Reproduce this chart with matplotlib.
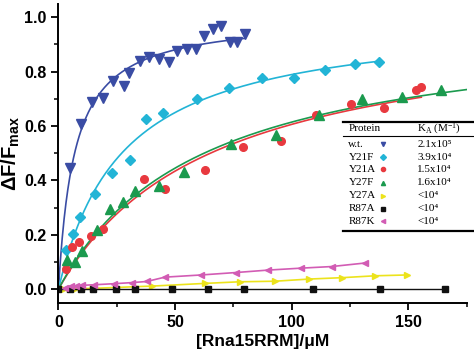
import numpy as np
import matplotlib
matplotlib.use("Agg")
import matplotlib.pyplot as plt
from matplotlib.ticker import MultipleLocator

# ---- data ----
wt_x = [4.9, 9.6, 14.4, 18.9, 23.5, 28.1, 30.4, 34.9, 38.9, 42.9, 47.4, 50.9, 54.9, 58.8,
        62.4, 66.4, 69.6, 73.5, 76.6, 79.9]
wt_y = [0.445, 0.607, 0.69, 0.704, 0.766, 0.747, 0.795, 0.84, 0.853, 0.848, 0.835, 0.877,
        0.882, 0.882, 0.93, 0.958, 0.968, 0.91, 0.91, 0.94]

y21f_x = [3.3, 6.3, 9.2, 15.5, 23.1, 30.6, 37.5, 44.9, 59.5, 73.2, 87.4, 100.9, 114.4, 127.2, 137.5]
y21f_y = [0.143, 0.201, 0.266, 0.349, 0.426, 0.475, 0.626, 0.649, 0.698, 0.739, 0.775, 0.775,
          0.806, 0.83, 0.834]

y21a_x = [3.1, 5.9, 8.6, 13.9, 18.9, 36.8, 45.5, 62.8, 79.2, 95.2, 110.4, 125.2, 139.5, 153.2, 155.4]
y21a_y = [0.074, 0.155, 0.173, 0.194, 0.222, 0.405, 0.367, 0.44, 0.521, 0.546, 0.64, 0.681,
          0.665, 0.732, 0.742]

y27f_x = [3.6, 7.2, 10.0, 16.5, 22.1, 27.8, 32.7, 43.2, 53.8, 73.8, 93.1, 111.8, 130.0, 147.1, 163.8]
y27f_y = [0.107, 0.099, 0.142, 0.217, 0.294, 0.319, 0.362, 0.38, 0.431, 0.534, 0.567, 0.64,
          0.698, 0.706, 0.732]

y27a_x = [2.5, 5.0, 7.0, 10.0, 15.0, 25.0, 33.0, 40.0, 62.8, 77.8, 92.8, 107.5, 121.4, 135.7, 149.2]
y27a_y = [0.0, 0.001, 0.001, 0.002, 0.003, 0.006, 0.009, 0.011, 0.021, 0.027, 0.029, 0.037,
          0.042, 0.049, 0.052]

r87a_x = [0.0, 4.9, 9.6, 14.7, 24.6, 32.8, 48.6, 64.2, 79.6, 109.2, 137.8, 165.6]
r87a_y = [0.0, 0.0, 0.0, 0.0, 0.0, 0.0, 0.0, 0.0, 0.0, 0.0, 0.0, 0.0]

r87k_x = [3.0, 5.4, 7.4, 10.2, 15.3, 24.0, 31.6, 37.8, 45.6, 61.1, 76.1, 89.9, 103.8, 117.1, 131.4]
r87k_y = [0.005, 0.012, 0.012, 0.014, 0.016, 0.02, 0.024, 0.028, 0.044, 0.052, 0.061, 0.07,
          0.077, 0.083, 0.096]

proteins = ["w.t.", "Y21F", "Y21A", "Y27F", "Y27A", "R87A", "R87K"]
ka_labels = ["2.1x10⁵", "3.9x10⁴", "1.5x10⁴", "1.6x10⁴", "<10⁴", "<10⁴", "<10⁴"]

fit_end = [80, 137.5, 155.5, 175]  # x where each hyperbolic fit line stops

c_blue = "#3a4ca4"
c_cyan = "#22b4d6"
c_red = "#e8393f"
c_green = "#1b9a4e"
c_yellow = "#ece31c"
c_black = "#111111"
c_pink = "#d25cb4"


def fit_hyperbola(x, y):
    # y = B*x/(K+x), least squares, B solved for each K
    x = np.asarray(x)
    y = np.asarray(y)
    best = None
    for K in np.linspace(0.5, 200, 4000):
        f = x / (K + x)
        B = np.sum(y * f) / np.sum(f * f)
        err = np.sum((y - B * f) ** 2)
        if best is None or err < best[0]:
            best = (err, B, K)
    return best[1], best[2]


plt.rcParams['font.family'] = ['Liberation Sans', 'DejaVu Sans']
plt.rcParams['font.weight'] = 'bold'

fig = plt.figure(figsize=(4.74, 3.53), dpi=100)
ax = fig.add_axes([0.1234, 0.1425, 0.8614, 0.847])

hyper = [(wt_x, wt_y, c_blue, 'v', 6.5),
         (y21f_x, y21f_y, c_cyan, 'D', 5.0),
         (y21a_x, y21a_y, c_red, 'o', 5.5),
         (y27f_x, y27f_y, c_green, '^', 6.5)]

# fit lines first, markers on top
for (xs, ys, col, mk, ms), xend in zip(hyper, fit_end):
    B, K = fit_hyperbola(xs, ys)
    xx = np.linspace(0, xend, 300)
    ax.plot(xx, B * xx / (K + xx), color=col, lw=1.2, zorder=2)

for xs, ys, col, mk, ms in hyper:
    ax.plot(xs, ys, ls='none', marker=mk, ms=ms, color=col, mec=col, zorder=3)

ax.plot(y27a_x, y27a_y, '-', marker='>', ms=5, color=c_yellow, lw=1.2, zorder=2)
ax.plot(r87a_x, r87a_y, '-', marker='s', ms=3.8, color=c_black, lw=1.0, zorder=2)
ax.plot(r87k_x, r87k_y, '-', marker='<', ms=5, color=c_pink, lw=1.2, zorder=2)

ax.set_xlim(0, 175)
ax.set_ylim(-0.05, 1.05)
ax.spines['top'].set_visible(False)
ax.spines['right'].set_visible(False)
for s in ['left', 'bottom']:
    ax.spines[s].set_linewidth(1.4)

ax.xaxis.set_major_locator(MultipleLocator(50))
ax.xaxis.set_minor_locator(MultipleLocator(25))
ax.yaxis.set_major_locator(MultipleLocator(0.2))
ax.yaxis.set_minor_locator(MultipleLocator(0.1))
ax.yaxis.set_major_formatter(plt.FuncFormatter(lambda v, p: "%.1f" % v))
ax.tick_params(which='major', direction='out', length=5, width=1.3, labelsize=11.5)
ax.tick_params(which='minor', direction='out', length=3, width=1.1)

ax.set_xlabel("[Rna15RRM]/μM", fontsize=12.5, fontweight='bold', labelpad=3)
ax.set_ylabel(r"ΔF/F$_\mathregular{max}$", fontsize=14.5, fontweight='bold', labelpad=2)

# ---- legend table ----
tr = ax.transAxes
x0, x1 = 0.696, 1.016
ax.plot([x0, x1], [0.605, 0.605], color='black', lw=1.6, transform=tr, clip_on=False)
ax.plot([x0, x1], [0.5585, 0.5585], color='black', lw=0.8, transform=tr, clip_on=False)
ax.plot([x0, x1], [0.24, 0.24], color='black', lw=1.6, transform=tr, clip_on=False)

serif = dict(family=['Liberation Serif', 'DejaVu Serif'], fontweight='normal', fontsize=8,
             va='center', transform=tr)
ax.text(0.71, 0.581, "Protein", **serif)
ax.text(0.879, 0.581, r"K$\mathregular{_A}$ (M$\mathregular{^{-1}}$)", **serif)

row_y = [0.530, 0.487, 0.446, 0.402, 0.358, 0.315, 0.272]
row_marks = [('v', c_blue), ('D', c_cyan), ('o', c_red), ('^', c_green),
             ('>', c_yellow), ('s', c_black), ('<', c_pink)]
for name, ka, yy, (mk, col) in zip(proteins, ka_labels, row_y, row_marks):
    ax.text(0.71, yy, name, **serif)
    ax.text(0.879, yy, ka, **serif)
    ax.plot([0.795], [yy], marker=mk, ms=3, color=col, ls='none', transform=tr, clip_on=False)

fig.savefig("out.png", dpi=100)
